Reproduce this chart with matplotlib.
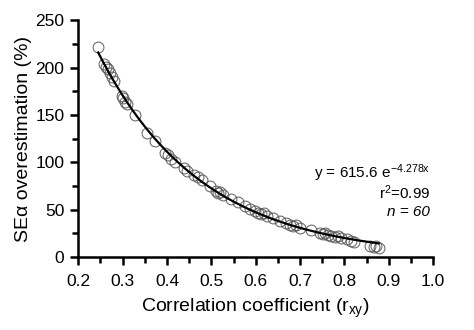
import matplotlib
matplotlib.use("Agg")
import matplotlib.pyplot as plt
import numpy as np
from matplotlib.ticker import MultipleLocator

plt.rcParams['font.family'] = ['Liberation Sans', 'DejaVu Sans']
plt.rcParams['mathtext.fontset'] = 'custom'
plt.rcParams['mathtext.rm'] = 'Liberation Sans'
plt.rcParams['mathtext.it'] = 'Liberation Sans:italic'

# correlation coefficient vs SE alpha overestimation
r_xy = [0.245, 0.258, 0.263, 0.268, 0.272, 0.277, 0.281,
        0.298, 0.302, 0.306, 0.310,
        0.328, 0.355, 0.372,
        0.395, 0.402, 0.410, 0.418,
        0.438, 0.446, 0.462, 0.470, 0.478,
        0.498, 0.510, 0.515, 0.520, 0.526,
        0.545, 0.560, 0.575, 0.588, 0.598,
        0.605, 0.612, 0.618, 0.625, 0.640,
        0.655, 0.668, 0.678, 0.684, 0.690, 0.700, 0.725,
        0.745, 0.752, 0.757, 0.762, 0.770, 0.778, 0.785, 0.792,
        0.805, 0.815, 0.822,
        0.858, 0.866, 0.872, 0.877]
se_over = [222, 204, 201, 198, 194, 190, 186,
           170, 168, 164, 161,
           150, 131, 122,
           110, 108, 104, 100,
           94, 91, 87, 84, 81,
           75, 70, 68, 69, 66,
           61, 58, 54, 51, 49,
           47, 45, 46, 43, 41,
           38, 36, 34, 33, 34, 31, 29,
           25, 24, 25, 23, 22, 21, 22, 20,
           19, 17, 16,
           12, 11, 12, 10]

# fitted exponential, as printed on the chart
fit_a = 615.6
fit_b = 4.278

fig = plt.figure(figsize=(4.74, 3.30), dpi=100)
ax = fig.add_axes([0.165, 0.221, 0.749, 0.718])

ax.plot(r_xy, se_over, 'o', ms=7.8, mfc='none', mec='#555555', mew=0.8, alpha=0.85)
xs = np.linspace(min(r_xy), max(r_xy), 200)
ax.plot(xs, fit_a * np.exp(-fit_b * xs), color='black', lw=1.6)

ax.set_xlim(0.2, 1.0)
ax.set_ylim(0, 250)
ax.xaxis.set_major_locator(MultipleLocator(0.1))
ax.xaxis.set_minor_locator(MultipleLocator(0.05))
ax.yaxis.set_major_locator(MultipleLocator(50))
ax.yaxis.set_minor_locator(MultipleLocator(25))
ax.set_xticklabels([f"{v:.1f}" for v in ax.get_xticks()])

for side in ['top', 'right']:
    ax.spines[side].set_visible(False)
for side in ['left', 'bottom']:
    ax.spines[side].set_linewidth(1.8)
ax.tick_params(which='major', length=6, width=1.8, labelsize=12.5)
ax.tick_params(axis='x', which='major', pad=6)
ax.tick_params(axis='y', which='major', pad=4)
ax.tick_params(which='minor', length=4, width=1.8)

ax.set_xlabel(r'Correlation coefficient (r$_{\rm xy}$)', fontsize=14, labelpad=6)
ax.set_ylabel('SE\u03b1 overestimation (%)', fontsize=14, labelpad=2)

ax.text(0.993, 88, r'y = 615.6 e$^{\mathrm{-4.278x}}$', ha='right', va='center', fontsize=11)
ax.text(0.993, 68, r'r$^{2}$=0.99', ha='right', va='center', fontsize=11)
ax.text(0.993, 48, 'n = 60', ha='right', va='center', fontsize=11, style='italic')

fig.savefig('out.png', dpi=100)
